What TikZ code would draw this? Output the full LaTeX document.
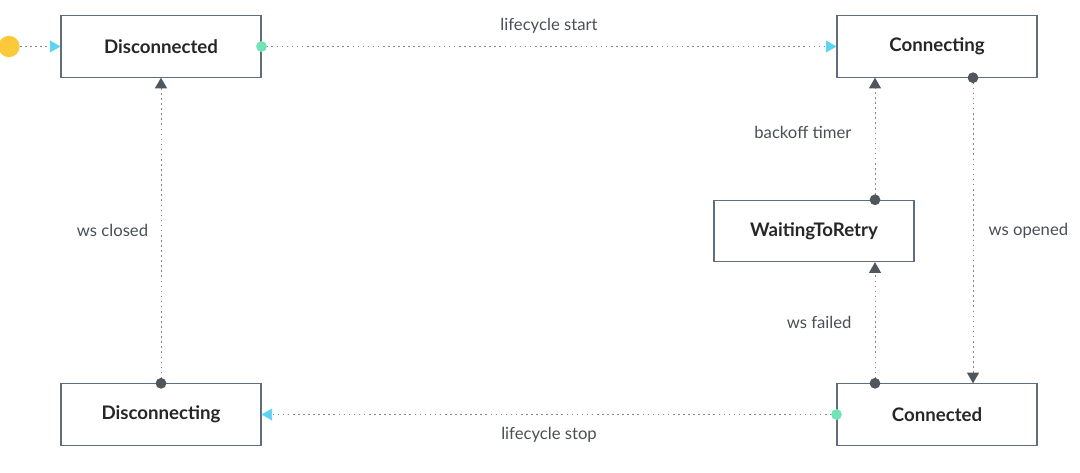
\documentclass[tikz,border=0pt]{standalone}
\usepackage{fontspec}
\setmainfont{Lato}
\usetikzlibrary{arrows.meta,calc}
\definecolor{boxline}{HTML}{5E6E7C}
\definecolor{edgeline}{HTML}{7C8893}
\definecolor{tipcyan}{HTML}{5CD3F3}
\definecolor{tipgreen}{HTML}{72E3B4}
\definecolor{tipdark}{HTML}{4F565D}
\definecolor{startyellow}{HTML}{FCC93A}
\definecolor{labeltext}{HTML}{4A4F55}
\tikzset{
  state/.style={draw=boxline, line width=0.8pt, minimum width=150pt, minimum height=46pt,
    inner sep=0pt, font=\fontsize{14}{16}\selectfont\bfseries, text=black!85},
  trans/.style={draw=edgeline, line width=0.7pt, dash pattern=on 1.2pt off 2.6pt},
  lbl/.style={font=\fontsize{12.5}{14}\selectfont, text=labeltext},
  cyantip/.style={-{Triangle[length=8pt,width=9pt,color=tipcyan,fill=tipcyan]}},
  greencyan/.style={{Circle[length=8pt,color=tipgreen,fill=tipgreen]}-{Triangle[length=8pt,width=9pt,color=tipcyan,fill=tipcyan]}},
  darkdark/.style={{Circle[length=8pt,color=tipdark,fill=tipdark]}-{Triangle[length=8pt,width=9pt,color=tipdark,fill=tipdark]}}
}
\begin{document}
\begin{tikzpicture}[x=0.75pt, y=-0.75pt]
  \useasboundingbox (0,0) rectangle (1080,473);
  % states
  \node[state] (disc) at (161,46.5) {Disconnected};
  \node[state] (conn) at (937,46.5) {Connecting};
  \node[state] (wait) at (814,231) {WaitingToRetry};
  \node[state] (dscn) at (161,414.5) {Disconnecting};
  \node[state] (cntd) at (937,414.5) {Connected};
  % start
  \node[circle, fill=startyellow, minimum size=16pt, inner sep=0pt] (start) at (9,46.5) {};
  \draw[trans, cyantip] (start) -- (disc.west);
  % transitions
  \draw[trans, greencyan, shorten <=-4pt] (disc.east) -- node[lbl, above=6pt] {lifecycle start} (conn.west);
  \draw[trans, darkdark, shorten <=-4pt] ($(conn.south)+(36,0)$) -- node[lbl, right=8pt] {ws opened} ($(cntd.north)+(36,0)$);
  \draw[trans, darkdark, shorten <=-4pt] ($(cntd.north)+(-62,0)$) -- node[lbl, left=14pt] {ws failed} ($(wait.south)+(61,0)$);
  \draw[trans, darkdark, shorten <=-4pt] ($(wait.north)+(61,0)$) -- node[lbl, left=14pt, pos=0.55] {backoff timer} ($(conn.south)+(-62,0)$);
  \draw[trans, greencyan, shorten <=-4pt] (cntd.west) -- node[lbl, below=6pt] {lifecycle stop} (dscn.east);
  \draw[trans, darkdark, shorten <=-4pt] (dscn.north) -- node[lbl, left=6pt, pos=0.5] {ws closed} (disc.south);
\end{tikzpicture}
\end{document}
